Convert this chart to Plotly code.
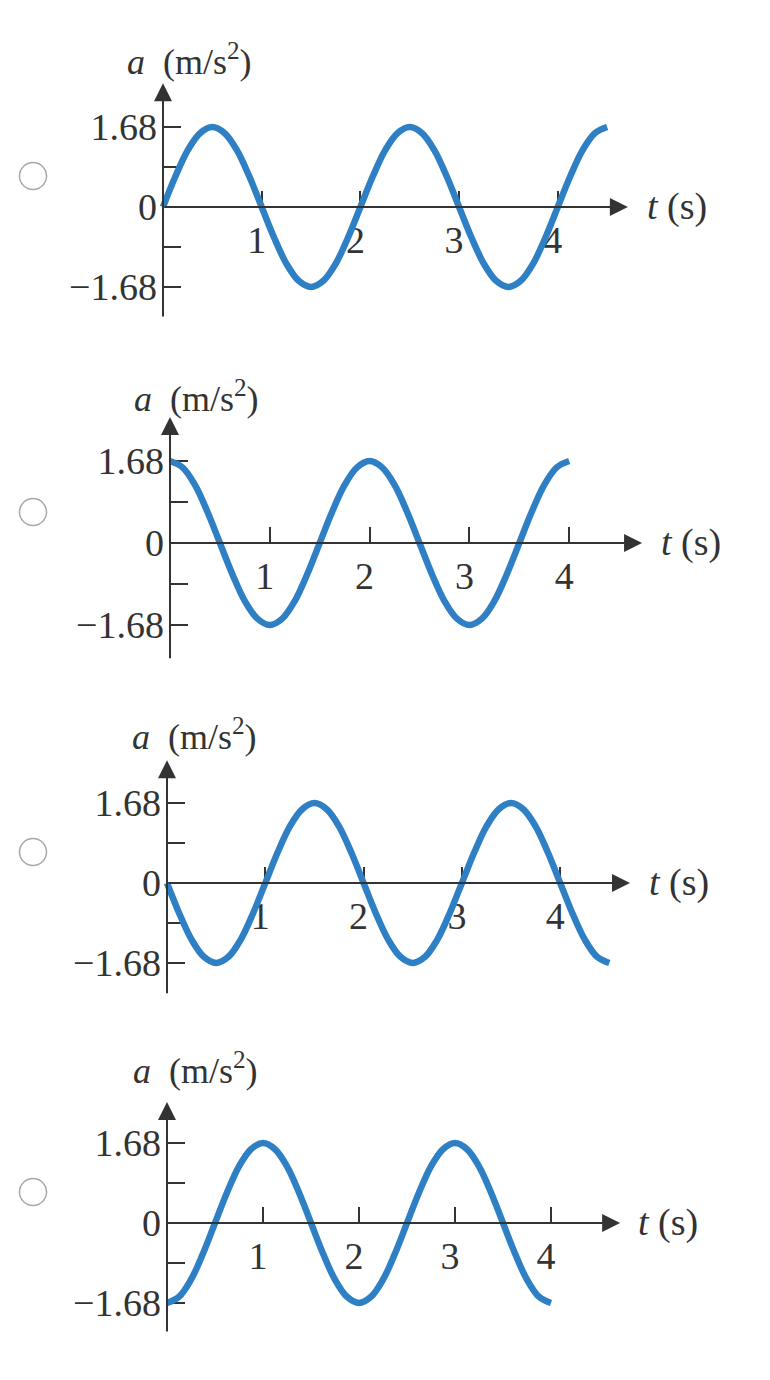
import plotly.graph_objects as go

t_long = [0, 0.125, 0.25, 0.375, 0.5, 0.625, 0.75, 0.875, 1,
          1.125, 1.25, 1.375, 1.5, 1.625, 1.75, 1.875, 2,
          2.125, 2.25, 2.375, 2.5, 2.625, 2.75, 2.875, 3,
          3.125, 3.25, 3.375, 3.5, 3.625, 3.75, 3.875, 4,
          4.125, 4.25, 4.375, 4.5]
t_short = t_long[:33]

a_opt1 = [0, 0.64, 1.19, 1.55, 1.68, 1.55, 1.19, 0.64, 0,
          -0.64, -1.19, -1.55, -1.68, -1.55, -1.19, -0.64, 0,
          0.64, 1.19, 1.55, 1.68, 1.55, 1.19, 0.64, 0,
          -0.64, -1.19, -1.55, -1.68, -1.55, -1.19, -0.64, 0,
          0.64, 1.19, 1.55, 1.68]
a_opt2 = [1.68, 1.55, 1.19, 0.64, 0, -0.64, -1.19, -1.55, -1.68,
          -1.55, -1.19, -0.64, 0, 0.64, 1.19, 1.55, 1.68,
          1.55, 1.19, 0.64, 0, -0.64, -1.19, -1.55, -1.68,
          -1.55, -1.19, -0.64, 0, 0.64, 1.19, 1.55, 1.68]
a_opt3 = [0, -0.64, -1.19, -1.55, -1.68, -1.55, -1.19, -0.64, 0,
          0.64, 1.19, 1.55, 1.68, 1.55, 1.19, 0.64, 0,
          -0.64, -1.19, -1.55, -1.68, -1.55, -1.19, -0.64, 0,
          0.64, 1.19, 1.55, 1.68, 1.55, 1.19, 0.64, 0,
          -0.64, -1.19, -1.55, -1.68]
a_opt4 = [-1.68, -1.55, -1.19, -0.64, 0, 0.64, 1.19, 1.55, 1.68,
          1.55, 1.19, 0.64, 0, -0.64, -1.19, -1.55, -1.68,
          -1.55, -1.19, -0.64, 0, 0.64, 1.19, 1.55, 1.68,
          1.55, 1.19, 0.64, 0, -0.64, -1.19, -1.55, -1.68]

y_tickvals = [-1.68, -0.84, 0, 0.84, 1.68]
y_ticktext = ["\u22121.68", "", "0", "", "1.68"]
x_tickvals = [1, 2, 3, 4]
x_ticktext = ["1", "2", "3", "4"]

# the page puts the plot 8px in from the top-left corner
OFF = 8
W, H = 770 - OFF, 1380 - OFF
FONT = "Liberation Serif"
INK = "#333333"
BLUE = "#2f7fc4"

# pixel geometry of each panel (as seen on the page)
panels = [
    dict(t=t_long, a=a_opt1, x0=163, sx=98.7, y0=207, sy=47.6, band=(0, 345),
         ytop=2.6, ybot=-2.33, xend=4.71, title_dy=148),
    dict(t=t_short, a=a_opt2, x0=170, sx=99.8, y0=543, sy=48.8, band=(345, 685),
         ytop=2.58, ybot=-2.39, xend=4.73, title_dy=146),
    dict(t=t_long, a=a_opt3, x0=167, sx=98.3, y0=883, sy=47.6, band=(685, 1025),
         ytop=2.58, ybot=-2.35, xend=4.71, title_dy=149),
    dict(t=t_short, a=a_opt4, x0=167, sx=96.0, y0=1223, sy=47.6, band=(1025, 1380),
         ytop=2.54, ybot=-2.31, xend=4.72, title_dy=155),
]

fig = go.Figure()
layout = {}
annotations = []
shapes = []

for i, p in enumerate(panels, 1):
    xa = "x" if i == 1 else f"x{i}"
    ya = "y" if i == 1 else f"y{i}"
    x0 = p["x0"] - OFF
    y0 = p["y0"] - OFF
    b_top = max(p["band"][0] - OFF, 0)
    b_bot = min(p["band"][1] - OFF, H)

    fig.add_trace(go.Scatter(
        x=p["t"], y=p["a"], xaxis=xa, yaxis=ya,
        mode="lines", line=dict(color=BLUE, width=6.5, shape="spline"),
        hoverinfo="skip",
    ))

    layout["xaxis" if i == 1 else f"xaxis{i}"] = dict(
        domain=[0, 1],
        range=[-x0 / p["sx"], (W - x0) / p["sx"]],
        anchor="free", position=1 - y0 / H,
        showgrid=False, zeroline=False, showline=False,
        ticks="inside", ticklen=16, tickwidth=2, tickcolor=INK,
        tickvals=x_tickvals, ticktext=x_ticktext,
        ticklabelstandoff=7, ticklabelshift=-5,
        tickfont=dict(family=FONT, size=38, color=INK),
        layer="below traces", fixedrange=True,
    )
    layout["yaxis" if i == 1 else f"yaxis{i}"] = dict(
        domain=[1 - b_bot / H, 1 - b_top / H],
        range=[-(b_bot - y0) / p["sy"], (y0 - b_top) / p["sy"]],
        anchor="free", position=x0 / W,
        showgrid=False, zeroline=False, showline=False,
        ticks="inside", ticklen=17, tickwidth=2, tickcolor=INK,
        tickvals=y_tickvals, ticktext=y_ticktext,
        ticklabelstandoff=6,
        tickfont=dict(family=FONT, size=38, color=INK),
        layer="below traces", fixedrange=True,
    )

    # axis lines with arrow heads
    annotations.append(dict(
        x=p["xend"], y=0, ax=0, ay=0, xref=xa, yref=ya, axref=xa, ayref=ya,
        text="", showarrow=True, arrowhead=2, arrowsize=1.8, arrowwidth=2,
        arrowcolor=INK, standoff=0,
    ))
    annotations.append(dict(
        x=0, y=p["ytop"], ax=0, ay=p["ybot"], xref=xa, yref=ya, axref=xa, ayref=ya,
        text="", showarrow=True, arrowhead=2, arrowsize=1.8, arrowwidth=2,
        arrowcolor=INK, standoff=0,
    ))
    # axis titles
    annotations.append(dict(
        x=-0.38, y=p["title_dy"] / p["sy"], xref=xa, yref=ya,
        xanchor="left", yanchor="middle", showarrow=False,
        text="<i>a</i>  (m/s<sup>2</sup>)",
        font=dict(family=FONT, size=36, color=INK),
    ))
    annotations.append(dict(
        x=p["xend"] + 0.17, y=0.02, xref=xa, yref=ya,
        xanchor="left", yanchor="middle", showarrow=False,
        text="<i>t</i> (s)",
        font=dict(family=FONT, size=38, color=INK),
    ))

    # radio button for the answer option
    cx = 33 - OFF
    cy = p["y0"] - 31 - OFF
    r = 13.5
    shapes.append(dict(
        type="circle", xref="paper", yref="paper",
        x0=(cx - r) / W, x1=(cx + r) / W,
        y0=1 - (cy + r) / H, y1=1 - (cy - r) / H,
        line=dict(color="#a8a8a8", width=1.5), fillcolor="white",
    ))

fig.update_layout(
    width=W, height=H,
    margin=dict(l=0, r=0, t=0, b=0),
    paper_bgcolor="white", plot_bgcolor="rgba(0,0,0,0)",
    showlegend=False,
    annotations=annotations, shapes=shapes,
    **layout,
)

fig.write_html("out.html")
